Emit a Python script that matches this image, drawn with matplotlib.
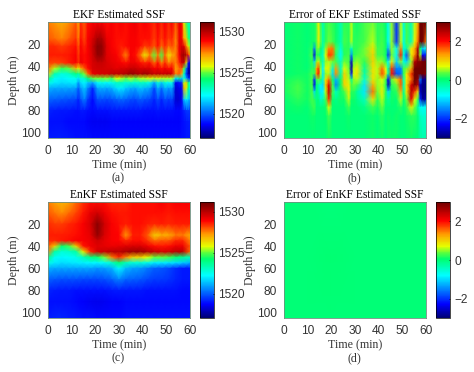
import numpy as np
import matplotlib
matplotlib.use('Agg')
import matplotlib.pyplot as plt
from matplotlib.colors import LinearSegmentedColormap

# sound speed values are stored relative to this base (m/s)
ssf_base = 1520

# EKF estimate
ekf_time = [0, 3, 6, 9, 12, 13, 14, 15.5, 17, 19, 21, 23, 25, 27, 29, 31, 33, 35, 37, 39, 41, 43, 45, 46.5, 48,
            49.5, 51, 52.5, 54, 55.5, 56.5, 57.5, 58.5, 59.3, 60]
ekf_depth = [0, 15, 22, 30, 37, 42, 47, 51, 55, 60, 70, 80, 90, 105]
ekf_ssf = [
    [7.6, 7.3, 7.0, 7.4, 8.0, 7.2, 8.5, 8.0, 8.8, 9.0, 9.0, 9.0, 8.8, 9.0, 8.8, 9.0, 8.8, 9.0, 9.2, 8.8, 9.0, 8.8, 8.5, 9.0, 8.5, 9.0, 8.5, 9.0, 8.0, 9.2, 9.0, 6.0, 4.5, 3.0, 3.2],
    [8.0, 7.8, 7.5, 7.9, 8.4, 7.5, 8.8, 8.2, 9.0, 9.5, 10.3, 10.2, 9.2, 9.0, 8.8, 8.8, 8.8, 9.0, 9.0, 8.8, 8.8, 8.8, 8.3, 8.8, 8.3, 8.8, 8.3, 8.5, 7.5, 9.2, 9.2, 7.0, 6.5, 4.5, 3.5],
    [8.5, 8.5, 8.3, 8.5, 8.8, 8.0, 9.0, 8.5, 9.0, 9.8, 10.8, 10.6, 9.4, 9.0, 8.8, 8.6, 8.8, 9.0, 9.0, 8.8, 8.3, 8.5, 8.0, 8.8, 7.8, 8.5, 7.8, 8.2, 7.5, 9.2, 9.5, 9.3, 7.5, 6.0, 5.0],
    [8.6, 8.6, 8.6, 8.7, 9.0, 8.3, 9.0, 8.8, 9.0, 9.6, 10.6, 10.5, 9.4, 9.2, 9.0, 8.5, 7.5, 9.0, 8.8, 7.8, 6.0, 7.5, 5.0, 7.5, 4.8, 7.8, 6.2, 7.0, 7.5, 9.0, 10.2, 10.5, 10.0, 8.8, 7.0],
    [8.3, 8.2, 8.3, 8.6, 9.0, 8.4, 9.2, 8.8, 9.0, 9.5, 9.8, 9.8, 9.5, 9.3, 9.2, 9.0, 8.8, 9.2, 9.2, 8.8, 8.5, 8.8, 7.8, 8.8, 7.5, 8.5, 7.5, 8.0, 7.5, 8.5, 9.5, 9.8, 6.0, -1.0, -1.5],
    [7.8, 5.5, 4.6, 5.0, 7.0, 6.0, 7.0, 8.0, 8.8, 9.5, 9.6, 9.6, 9.5, 9.5, 9.3, 9.5, 9.5, 9.8, 9.8, 9.5, 9.5, 9.5, 9.0, 9.2, 8.8, 9.2, 8.8, 9.0, 7.2, 7.8, 8.0, 5.0, 0.5, -2.2, -2.3],
    [6.5, 3.3, 2.7, 3.0, 4.0, 3.5, 4.5, 5.2, 7.8, 9.3, 9.5, 9.6, 9.7, 9.9, 10.0, 10.0, 10.2, 10.6, 10.4, 10.2, 10.5, 10.2, 9.8, 10.0, 9.8, 9.8, 10.0, 9.5, 7.5, 8.0, 7.0, 3.0, -0.5, -2.3, -2.4],
    [4.0, 2.4, 2.1, 2.3, 2.5, 2.0, 2.8, 3.0, 4.2, 5.0, 5.2, 5.0, 5.3, 4.7, 5.8, 5.5, 5.0, 5.5, 5.0, 5.5, 5.5, 6.0, 5.5, 6.0, 5.5, 5.5, 5.5, 5.5, 2.0, 3.5, 1.5, 2.5, 1.0, -0.5, -1.0],
    [2.7, 2.0, 1.8, 1.9, 2.0, 0.8, 1.8, 2.2, 1.5, 1.0, 2.2, 2.5, 2.2, 2.5, 3.0, 3.2, 2.8, 3.0, 2.8, 3.0, 3.0, 2.5, 1.0, 2.8, 1.5, 2.8, 2.2, 2.6, -1.5, -1.0, -0.8, 5.5, 6.5, 4.5, 2.5],
    [1.2, 1.0, 1.0, 1.0, 0.9, 0.0, 0.8, 1.5, 0.6, -0.8, 1.0, 1.2, 1.0, 1.2, 1.8, 2.0, 1.5, 1.2, 1.0, 1.5, 1.2, 1.0, -0.3, 1.2, 0.2, 1.2, 0.8, 1.0, -1.8, -1.5, -1.5, 7.0, 6.0, 4.0, 2.3],
    [0.1, 0.0, -0.1, -0.2, -0.3, -0.8, -0.2, 0.5, -0.5, -1.2, -0.2, -0.2, -0.3, -0.2, 0.0, 0.2, 0.0, -0.2, -0.3, 0.0, -0.2, -0.3, -0.8, -0.2, -0.8, -0.2, -0.5, -0.3, -1.8, -1.8, -1.5, 1.5, 2.2, 1.8, 1.2],
    [-0.8, -0.9, -1.0, -1.0, -1.1, -1.1, -1.0, -1.0, -1.1, -1.2, -1.1, -1.1, -1.1, -1.0, -1.0, -1.0, -1.0, -1.0, -1.0, -1.0, -1.1, -1.1, -1.1, -1.0, -1.1, -1.1, -1.1, -1.1, -1.2, -1.2, -1.1, -0.8, -0.5, -0.4, -0.5],
    [-1.1, -1.1, -1.1, -1.2, -1.2, -1.2, -1.2, -1.2, -1.3, -1.4, -1.4, -1.4, -1.4, -1.3, -1.3, -1.3, -1.3, -1.3, -1.3, -1.3, -1.3, -1.3, -1.3, -1.3, -1.3, -1.3, -1.3, -1.3, -1.3, -1.3, -1.2, -1.1, -1.0, -0.9, -0.9],
    [-1.0, -0.9, -0.9, -1.0, -1.1, -1.1, -1.1, -1.1, -1.1, -1.2, -1.2, -1.2, -1.2, -1.2, -1.2, -1.2, -1.2, -1.2, -1.2, -1.2, -1.2, -1.2, -1.2, -1.2, -1.2, -1.2, -1.2, -1.2, -1.2, -1.2, -1.1, -1.1, -1.0, -1.0, -1.0],
]

# EKF error
err_time = [0, 6, 10, 12, 12.9, 13.8, 14.6, 15.5, 16.5, 17.7, 19, 20.6, 22, 24, 25.5, 27.5, 28.5, 29.5, 31, 34, 37.6,
            39.5, 41.5, 43, 44, 45.5, 47.5, 49.4, 50.5, 51.7, 53.7, 55.2, 56.5, 57.5, 58.5, 60]
err_depth = [0, 18, 24, 30, 36, 42, 47, 52, 57, 63, 70, 77, 85, 105]
ekf_err = [
    [0, .1, 0, .1, .1, .3, .8, .3, -.3, .2, .3, .2, .1, -.3, .2, .2, .6, .2, .1, .3, .4, .2, .2, 0, -.6, .5, -2, .6, -.5, .3, -.3, .6, 1.2, 3, 3, 3],
    [0, .1, 0, .1, .1, .3, .8, .4, -.3, .2, .4, .3, .1, -.3, .3, .2, .6, .2, .2, .3, .6, .2, .3, .1, -.8, .5, -2, .6, -.6, .3, -.4, .8, 1.5, 3, 3, 1.5],
    [0, .1, 0, .2, -1.5, .3, .5, .1, -.3, .5, 1.4, 1.5, .3, -.5, .2, .2, -.5, .2, .2, .4, .9, .3, .3, .1, -1.2, .5, -.7, 1.4, -.5, -.3, .8, 1.2, 2.5, 0, -1, -.6],
    [0, .1, 0, .3, -2.5, .2, .1, -.2, -.4, .7, 1.8, 1.6, .2, -.8, .2, .3, -1.5, .2, .3, .4, 1.0, .3, .3, .1, -2.0, .4, -.7, 1.9, -.5, -1.8, .8, 1.4, 2.8, .6, -2.3, -2],
    [0, .1, 0, .2, -1, .4, .8, .3, -.4, .5, .6, .4, .3, -.4, .4, .3, -2.5, .4, .5, .2, 1.0, .5, .5, .2, -.8, .8, -1, .5, -.6, -1.0, .5, 2.5, 2.8, 2.8, 3, 3],
    [0, .1, 0, .2, .2, 1.2, 1.8, .5, -.8, .7, .8, -.5, 1.3, -.4, .7, .4, -2.8, .6, .8, -.2, .9, .6, 1.5, .7, -.3, 1.8, -1.5, -1.5, .3, .4, 1.2, 3, 3, 3, 3, 3],
    [0, .1, .1, .3, .2, 1.4, 2, .6, -.9, .5, .6, -1, 1.4, -.3, 1, .5, -2.2, .7, .9, -.3, .9, .6, 1.7, .9, -.3, 2, -1.8, -1.6, .2, .8, 1.8, 3, 3, 3, 3, 2.8],
    [.1, .2, .1, .3, -2, .2, .4, .2, -.5, .9, 1.5, .1, -1.2, .1, 1.0, .6, -.2, .5, .6, -.5, .9, .5, .7, .3, -2.3, .4, .9, 1.6, -.4, .8, 1.5, 3, 2.8, -1.5, -2.8, -2.8],
    [.1, .3, .1, .3, -2.4, 0, -.2, -.7, -1, 1.0, 2.2, .3, -1.5, .1, 1.0, .8, .3, .4, .3, -.9, 1.2, .5, .6, .2, -2.6, .2, .4, 1.6, -.4, .9, 2.3, 2.9, 2.5, -2.6, -2.9, -2.9],
    [.1, .3, .1, .3, -1, 0, -.2, -.9, -.8, .6, 2.4, .3, -.4, .1, .3, .8, .2, .2, -.2, -.9, 1.5, .4, .8, .2, -1, .1, .2, 1.2, -.2, .8, 2.5, 1.8, 1.0, -2.6, -2.9, -2.9],
    [0, .2, .1, .3, .2, -.1, 0, -.4, -.3, .3, 1.8, .1, -.1, .1, .1, .6, .1, .1, -.1, -.4, .9, .2, .6, .1, -.2, .1, 0, .6, 0, .4, 2.2, .7, .3, -2, -2.8, -2.6],
    [0, .1, 0, .2, .3, 0, 0, 0, 0, .1, .7, 0, 0, 0, 0, .3, 0, 0, 0, -.1, .3, .1, .4, 0, 0, 0, 0, .2, 0, .2, .8, .4, -.2, -.7, -.8, -.7],
    [0, 0, 0, .1, .1, 0, 0, 0, 0, .05, .3, 0, 0, 0, 0, .1, 0, 0, 0, 0, .1, 0, .2, 0, .1, 0, .1, 0, 0, .1, .2, .2, 0, -.4, -.5, -.5],
    [0, 0, 0, 0, 0, 0, 0, 0, 0, 0, .1, 0, 0, 0, 0, 0, 0, 0, 0, 0, .1, 0, .1, 0, .1, .1, .1, 0, 0, 0, .1, 0, 0, -.2, -.3, -.3],
]

# EnKF estimate
enkf_time = [0, 3, 6, 9, 12, 15, 18, 21, 24, 27, 30, 33, 36, 39, 42, 45, 48, 51, 54, 57, 60]
enkf_depth = [0, 10, 20, 30, 35, 40, 45, 50, 55, 60, 70, 80, 90, 105]
enkf_ssf = [
    [7.6, 7.2, 6.9, 7.2, 7.8, 8.4, 8.8, 8.8, 8.8, 8.5, 8.5, 8.5, 8.8, 8.8, 8.8, 8.8, 9.0, 8.8, 9.0, 9.0, 9.0],
    [8.0, 7.7, 7.4, 7.8, 8.2, 8.7, 9.3, 9.7, 9.2, 8.8, 8.7, 8.7, 8.8, 8.8, 8.8, 8.8, 8.8, 8.7, 8.8, 8.8, 8.8],
    [8.5, 8.3, 8.3, 8.5, 8.7, 9.0, 9.5, 10.8, 9.7, 9.0, 8.8, 8.6, 8.8, 8.8, 8.6, 8.5, 8.6, 8.5, 8.6, 8.6, 8.6],
    [8.6, 8.6, 8.6, 8.7, 8.8, 9.0, 9.3, 10.6, 9.5, 9.0, 8.9, 7.3, 8.6, 8.6, 8.0, 6.5, 7.0, 7.0, 7.6, 7.6, 7.0],
    [8.5, 8.5, 8.7, 8.8, 9.0, 9.0, 9.2, 9.7, 9.3, 9.0, 8.9, 8.5, 8.8, 8.8, 8.4, 7.8, 8.0, 8.0, 8.5, 8.5, 7.5],
    [8.0, 6.5, 4.3, 4.8, 6.5, 8.7, 9.1, 9.4, 9.3, 9.2, 9.3, 9.4, 9.5, 9.5, 9.2, 8.8, 8.7, 8.8, 9.2, 9.2, 8.0],
    [7.5, 3.5, 2.8, 3.0, 3.5, 6.0, 8.5, 9.6, 9.8, 10.0, 10.0, 10.3, 10.5, 10.5, 10.2, 9.8, 9.6, 9.7, 10.0, 10.0, 7.8],
    [4.0, 2.4, 2.2, 2.3, 2.5, 3.2, 4.0, 4.3, 5.2, 7.5, 8.5, 7.5, 6.5, 6.5, 5.8, 5.0, 5.0, 4.8, 4.3, 3.8, 3.2],
    [2.7, 2.0, 1.8, 1.9, 2.0, 2.1, 2.2, 2.2, 2.4, 3.0, 4.2, 3.2, 2.8, 2.8, 2.6, 2.0, 2.0, 1.9, 1.8, 1.5, 1.2],
    [1.2, 1.0, 1.0, 1.0, 1.0, 1.0, 1.0, 0.8, 0.9, 1.2, 2.2, 1.3, 0.9, 0.8, 0.4, 0.0, -0.1, -0.3, -0.7, -1.0, -1.0],
    [0.0, -0.1, -0.2, -0.2, -0.2, -0.3, -0.3, -0.3, -0.2, 0.0, 0.5, 0.1, 0.0, -0.1, -0.3, -0.5, -0.5, -0.6, -0.8, -1.0, -1.0],
    [-0.8, -0.9, -1.0, -1.0, -1.1, -1.1, -1.1, -1.1, -1.1, -1.0, -0.9, -1.0, -1.0, -1.0, -1.1, -1.1, -1.1, -1.1, -1.1, -1.2, -1.2],
    [-1.1, -1.1, -1.1, -1.1, -1.2, -1.3, -1.4, -1.5, -1.4, -1.3, -1.3, -1.2, -1.2, -1.2, -1.2, -1.2, -1.2, -1.2, -1.2, -1.2, -1.2],
    [-1.0, -0.8, -0.8, -0.9, -1.0, -1.1, -1.1, -1.2, -1.2, -1.2, -1.2, -1.1, -1.1, -1.1, -1.1, -1.1, -1.1, -1.1, -1.1, -1.1, -1.1],
]

# EnKF error, nearly flat
enkf_err_time = [0, 10, 20, 30, 40, 50, 60]
enkf_err_depth = [0, 50, 105]
enkf_err = [
    [0.0, 0.02, -0.02, 0.02, 0.0, 0.02, 0.0],
    [0.02, 0.0, 0.03, 0.0, 0.02, 0.0, 0.02],
    [0.0, 0.0, 0.0, 0.0, 0.0, 0.0, 0.0],
]

titles = ['EKF Estimated SSF', 'Error of EKF Estimated SSF', 'EnKF Estimated SSF', 'Error of EnKF Estimated SSF']
captions = ['(a)', '(b)', '(c)', '(d)']
time_ticks = [0, 10, 20, 30, 40, 50, 60]
depth_ticks = [20, 40, 60, 80, 100]
ssf_ticks = [1520, 1525, 1530]
err_ticks = [-2, 0, 2]

W, H = 474, 372
# the colour bar of the reference: green sits close to the middle
cmap = LinearSegmentedColormap.from_list('ref_jet', [
    (0.00, '#000070'), (0.12, '#0000ff'), (0.37, '#00ffff'), (0.51, '#00ff6e'), (0.56, '#55ff40'),
    (0.62, '#e6ff00'), (0.72, '#ffa000'), (0.84, '#ff0000'), (1.00, '#700000')])


def box(left, top, right, bottom):
    return [left / W, 1 - bottom / H, (right - left) / W, (bottom - top) / H]


def panel(left, top, t, d, z, vmin, vmax, cticks, title, caption):
    ax = fig.add_axes(box(left, top, left + 142.5, top + 116.3))
    mesh = ax.pcolormesh(t, d, z, cmap=cmap, vmin=vmin, vmax=vmax, shading='gouraud')
    ax.set_xlim(0, 60)
    ax.set_ylim(105, 0)
    ax.set_xticks(time_ticks)
    ax.set_yticks(depth_ticks)
    ax.tick_params(length=0, labelsize=8.6, labelcolor='#333333', pad=5)
    ax.set_title(title, fontfamily='Liberation Serif', fontsize=8.3, pad=3)
    ax.set_xlabel('Time (min)', fontfamily='Liberation Serif', fontsize=8.6, labelpad=1.5, color='#333333')
    ax.set_ylabel('Depth (m)', fontfamily='Liberation Serif', fontsize=8.6, labelpad=0.5, color='#333333')
    for s in ax.spines.values():
        s.set_color('#6f8f80')
        s.set_linewidth(0.6)
    fig.text((left + 71) / W, 1 - (top + 156.5) / H, caption, fontfamily='Liberation Serif', fontsize=8.6,
             ha='center', va='center', color='#333333')
    cax = fig.add_axes(box(left + 152.7, top, left + 166.7, top + 116.3))
    cb = fig.colorbar(mesh, cax=cax)
    cb.set_ticks(cticks)
    cb.ax.tick_params(length=1, width=0.5, direction='in', labelsize=8.6, labelcolor='#333333', pad=3)
    cb.outline.set_linewidth(0.5)


plt.rcParams['font.family'] = 'Liberation Sans'
fig = plt.figure(figsize=(W / 100, H / 100), dpi=100)

ekf_abs = np.array(ekf_ssf) + ssf_base
enkf_abs = np.array(enkf_ssf) + ssf_base
panel(47.5, 22, ekf_time, ekf_depth, ekf_abs, 1517, 1531.2, ssf_ticks, titles[0], captions[0])
panel(283.7, 22, err_time, err_depth, np.array(ekf_err), -3, 3, err_ticks, titles[1], captions[1])
panel(47.5, 202, enkf_time, enkf_depth, enkf_abs, 1517, 1531.2, ssf_ticks, titles[2], captions[2])
panel(283.7, 202, enkf_err_time, enkf_err_depth, np.array(enkf_err), -3, 3, err_ticks, titles[3], captions[3])

plt.savefig('out.png', dpi=100)
plt.close()
